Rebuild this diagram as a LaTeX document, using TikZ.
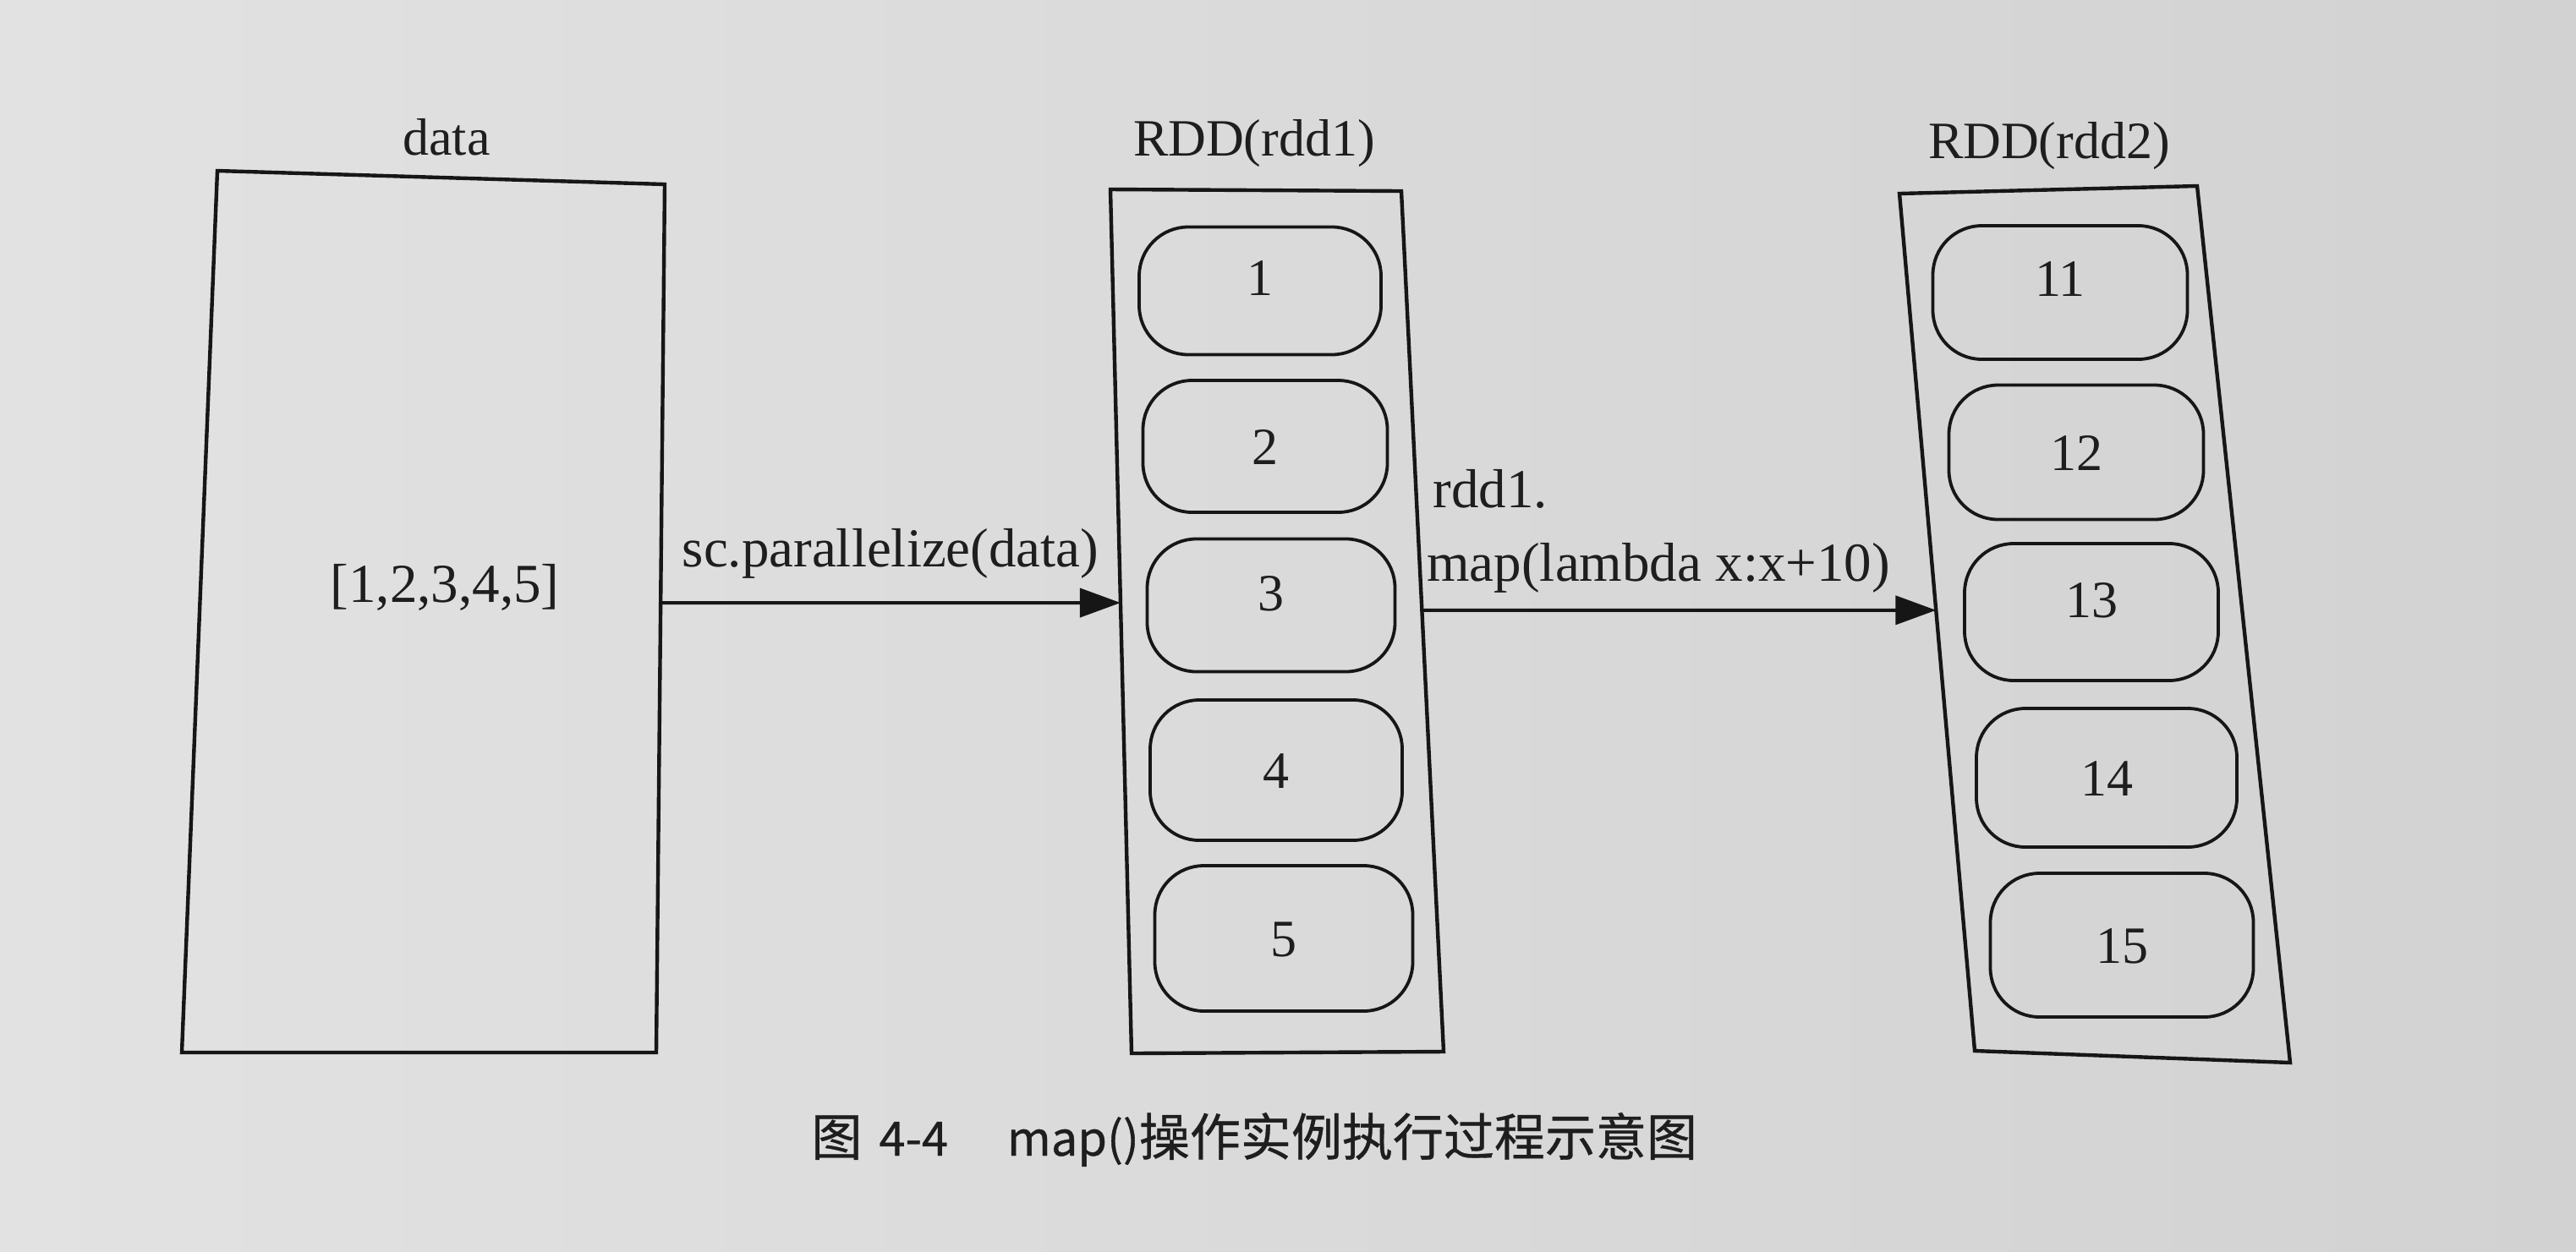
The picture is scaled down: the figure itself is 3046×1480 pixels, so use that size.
\documentclass[tikz,border=0pt]{standalone}
\usepackage{fontspec}
\setmainfont{Liberation Serif}
\newfontfamily\cjk[FakeBold=0.6]{Noto Sans CJK SC}
\usetikzlibrary{arrows.meta,calc}
\definecolor{ink}{RGB}{22,22,22}
\definecolor{txt}{RGB}{30,30,30}
\definecolor{bgl}{RGB}{226,226,226}
\definecolor{bgr}{RGB}{210,210,210}
\newcommand\capcjk{\cjk\fontsize{30}{34}\selectfont}
\newcommand\caplat{\cjk\fontsize{28}{32}\selectfont}
\begin{document}
\begin{tikzpicture}[x=0.5pt,y=-0.5pt,
  lbl/.style={font=\fontsize{31}{36}\selectfont, text=txt, inner sep=0pt},
  biglbl/.style={font=\fontsize{32.5}{38}\selectfont, text=txt, inner sep=0pt},
  frame/.style={draw=ink, line width=2.2pt, line join=miter},
  cell/.style={draw=ink, line width=1.9pt, rounded corners=29pt, inner sep=0pt,
    text height=21pt, text depth=0pt, font=\fontsize{31}{36}\selectfont, text=txt},
  conn/.style={draw=ink, line width=2pt, -{Triangle[length=24pt,width=17pt]}}]
\useasboundingbox (0,0) rectangle (3046,1480);
\shade[left color=bgl, right color=bgr] (0,0) rectangle (3046,1480);
% data box
\coordinate (dTL) at (257,202);
\coordinate (dTR) at (786,218);
\coordinate (dBR) at (776,1245);
\coordinate (dBL) at (215,1245);
\draw[frame] (dTL) -- (dTR) -- (dBR) -- (dBL) -- cycle;
% rdd1 box
\coordinate (aTL) at (1313,224);
\coordinate (aTR) at (1657,226);
\coordinate (aBR) at (1707,1244);
\coordinate (aBL) at (1338,1246);
\draw[frame] (aTL) -- (aTR) -- (aBR) -- (aBL) -- cycle;
% rdd2 box
\coordinate (bTL) at (2246,229);
\coordinate (bTR) at (2598,220);
\coordinate (bBR) at (2708,1257);
\coordinate (bBL) at (2335,1243);
\draw[frame] (bTL) -- (bTR) -- (bBR) -- (bBL) -- cycle;
% labels
\node[lbl, anchor=base] (dlabel) at (528,183) {data};
\node[biglbl, anchor=base] (arr) at (526,712) {[1,2,3,4,5]};
\node[biglbl, anchor=base] (par) at (1053,670) {sc.parallelize(data)};
\node[lbl, anchor=base] (alabel) at (1483,184) {RDD(rdd1)};
\node[lbl, anchor=base] (blabel) at (2423,187) {RDD(rdd2)};
\node[biglbl, anchor=base west] (m1) at (1694,600) {rdd1.};
\node[biglbl, anchor=base west] (m2) at (1687,687) {map(lambda x:x+10)};
% rdd1 cells
\node[cell, minimum width=143pt, minimum height=75.5pt] (c1) at (1490,344) {\raisebox{8pt}{1}};
\node[cell, minimum width=144.5pt, minimum height=78pt] (c2) at (1496,528) {2};
\node[cell, minimum width=146.5pt, minimum height=78.5pt] (c3) at (1503,716) {\raisebox{7.5pt}{3}};
\node[cell, minimum width=149pt, minimum height=83pt] (c4) at (1509,911) {4};
\node[cell, minimum width=152.5pt, minimum height=86pt] (c5) at (1518,1110) {5};
% rdd2 cells
\node[cell, minimum width=150.5pt, minimum height=79pt] (e1) at (2436,346) {\raisebox{8.5pt}{11}};
\node[cell, minimum width=150.5pt, minimum height=79.5pt] (e2) at (2455,535) {12};
\node[cell, minimum width=150pt, minimum height=81pt] (e3) at (2473,724) {\raisebox{7.5pt}{13}};
\node[cell, minimum width=154pt, minimum height=82pt] (e4) at (2491,920) {14};
\node[cell, minimum width=155.5pt, minimum height=85pt] (e5) at (2509,1118) {15};
% connectors
\coordinate (a1s) at ($(dTR)!0.482!(dBR)$);
\coordinate (a1e) at ($(aTL)!0.4785!(aBL)$);
\coordinate (a2s) at ($(aTR)!0.487!(aBR)$);
\coordinate (a2e) at ($(bTL)!0.486!(bBL)$);
\draw[conn] (a1s) -- (a1e);
\draw[conn] (a2s) -- (a2e);
% caption
\node[inner sep=0pt, anchor=base west, text=txt] (cap) at (959,1367)
  {\capcjk 图\hspace{10pt}\caplat 4-4\hspace{35pt}map()\capcjk 操作实例执行过程示意图};
\end{tikzpicture}
\end{document}
